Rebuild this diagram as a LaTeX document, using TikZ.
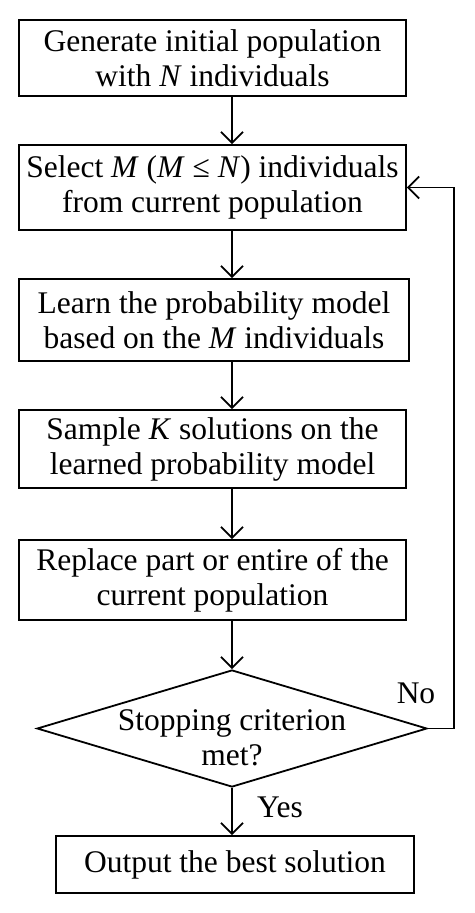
\documentclass[tikz,border=0pt]{standalone}
\usepackage{fontspec}
\setmainfont{Liberation Serif}
\usetikzlibrary{arrows.meta,shapes.geometric,calc}
\begin{document}
\begin{tikzpicture}[x=1pt,y=1pt,
  line width=1.8pt,
  txt/.style={font=\fontsize{31.5}{35}\selectfont, align=center},
  procbox/.style={draw, rectangle, txt, inner sep=0pt},
  arr/.style={-{Straight Barb[length=11pt,width=22pt]}},
  lbl/.style={font=\fontsize{31.5}{35}\selectfont, inner sep=0pt}
]
\useasboundingbox (0,0) rectangle (474,-913);
\node[procbox, minimum width=387, minimum height=76] (b1) at (212.5,-58) {Generate initial population\\with \textit{N} individuals};
\node[procbox, minimum width=387, minimum height=85] (b2) at (212.5,-187.5) {Select \textit{M} (\textit{M} ≤ \textit{N}) individuals\\from current population};
\node[procbox, minimum width=390, minimum height=82] (b3) at (214,-320) {Learn the probability model\\based on the \textit{M} individuals};
\node[procbox, minimum width=387, minimum height=78] (b4) at (212.5,-449) {Sample \textit{K} solutions on the\\learned probability model};
\node[procbox, minimum width=387, minimum height=80] (b5) at (212.5,-580) {Replace part or entire of the\\current population};
\node[draw, diamond, minimum width=390, minimum height=117, inner sep=0pt] (dec) at (232,-728.5) {};
\node[txt] (dectext) at (232,-738) {Stopping criterion\\met?};
\node[procbox, minimum width=358, minimum height=57] (out) at (235,-864.5) {Output the best solution};
\coordinate (loop) at (454,-728.5);
\node[lbl] (no) at (416,-693) {No};
\node[lbl] (yes) at (280,-807) {Yes};
\draw[arr] (b1.south -| dec.north) -- (b2.north -| dec.north);
\draw[arr] (b2.south -| dec.north) -- (b3.north -| dec.north);
\draw[arr] (b3.south -| dec.north) -- (b4.north -| dec.north);
\draw[arr] (b4.south -| dec.north) -- (b5.north -| dec.north);
\draw[arr] (b5.south -| dec.north) -- (dec.north);
\draw[arr] (dec.south) -- (out.north -| dec.south);
\draw[arr] (dec.east) -- (loop) |- (b2.east);
\end{tikzpicture}
\end{document}
